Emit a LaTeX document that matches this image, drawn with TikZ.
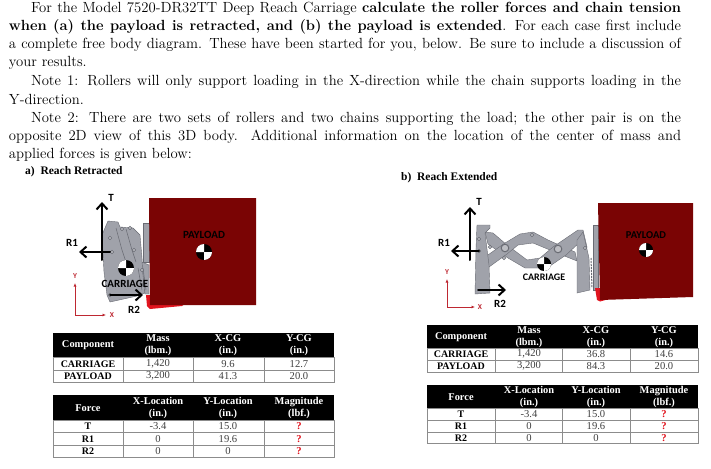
\documentclass[tikz,border=0pt]{standalone}
\usepackage{fontspec}
\newfontfamily\tabfont{Liberation Serif}
\newfontfamily\lblfont{Carlito}
\usetikzlibrary{arrows.meta}
\definecolor{payred}{RGB}{122,4,4}
\definecolor{brightred}{RGB}{225,20,30}
\definecolor{gearg}{RGB}{160,162,170}
\definecolor{darkg}{RGB}{105,107,115}
\definecolor{axred}{RGB}{190,40,50}
\definecolor{rule}{RGB}{140,140,140}
\tikzset{
 para/.style={anchor=base west,inner sep=0,outer sep=0,font=\fontsize{14.7}{18}\selectfont},
 lbl/.style={inner sep=0,font=\lblfont\bfseries\fontsize{11}{12}\selectfont,text=black},
 head/.style={inner sep=0,font=\tabfont\bfseries\fontsize{10.4}{11.5}\selectfont,text=white,align=center},
 cellb/.style={inner sep=0,font=\tabfont\bfseries\fontsize{10}{11}\selectfont},
 cell/.style={inner sep=0,font=\tabfont\fontsize{10.6}{12}\selectfont,text=black!75},
 qm/.style={inner sep=0,font=\tabfont\bfseries\fontsize{10.6}{11}\selectfont,text=brightred},
 force/.style={line width=2pt,-{Straight Barb[length=6pt,width=11pt,line width=2pt]},line cap=round},
 axis/.style={draw=axred,line width=.7pt,-{Latex[length=3.5pt,width=3pt]}},
 axlab/.style={inner sep=0,text=axred,font=\lblfont\bfseries\fontsize{7.5}{8}\selectfont},
 link/.style={draw=darkg,fill=gearg,line width=.4pt},
 pin/.style={draw=darkg,fill=gearg!70,line width=.6pt},
 ttl/.style={inner sep=0,anchor=west,font=\tabfont\bfseries\fontsize{11.5}{12}\selectfont},
}
\newcommand{\cgmark}[2]{% centre, radius
 \fill[black] (#1) circle (#2);
 \fill[white] (#1) -- ++(#2,0) arc (0:90:#2) -- cycle;
 \fill[white] (#1) -- ++(-#2,0) arc (180:270:#2) -- cycle;
}
\newcommand{\tabgrid}[9]{%
 \fill[black] (#1,#6) rectangle (#5,#7);
 \draw[rule,line width=.7pt] (#1,#7) rectangle (#5,#9);
 \draw[rule,line width=.7pt] (#2,#7) -- (#2,#9) (#3,#7) -- (#3,#9) (#4,#7) -- (#4,#9) (#1,#8) -- (#5,#8);
}
\begin{document}
\begin{tikzpicture}[x=1pt,y=-1pt]
\useasboundingbox (0,0) rectangle (711,468);
\fill[white] (0,0) rectangle (711,468);
% paragraph
\node[para] (p1) at (31,13) {\hbox to 650pt{For the Model 7520-DR32TT Deep Reach Carriage \textbf{calculate the roller forces and chain tension}}};
\node[para] (p2) at (9,31) {\hbox to 672pt{\textbf{when (a) the payload is retracted, and (b) the payload is extended}. For each case first include}};
\node[para] (p3) at (9,49) {\hbox to 672pt{a complete free body diagram. These have been started for you, below. Be sure to include a discussion of}};
\node[para] (p4) at (9,67) {your results.};
\node[para] (p5) at (31,85) {\hbox to 650pt{Note 1: Rollers will only support loading in the X-direction while the chain supports loading in the}};
\node[para] (p6) at (9,104) {Y-direction.};
\node[para] (p7) at (31,122) {\hbox to 650pt{Note 2: There are two sets of rollers and two chains supporting the load; the other pair is on the}};
\node[para] (p8) at (9,140) {\hbox to 672pt{opposite 2D view of this 3D body. Additional information on the location of the center of mass and}};
\node[para] (p9) at (9,158) {applied forces is given below:};
\node[ttl] (ta) at (25,172) {a)\ \ Reach Retracted};
\node[ttl] (tb) at (401,178) {b)\ \ Reach Extended};

% ---------- figure a: carriage
\path[link] (102,235) -- (105,228) -- (108,221) -- (118,222) -- (120,227) -- (133,228) -- (140,235) -- (142,258) -- (143,275) -- (145,293) -- (137,296) -- (110,302) -- (107,295) -- (104,272) -- cycle;
\path[link] (143,223) -- (149,223) -- (149,262) -- (143,262) -- cycle;
\path[link] (142,262) -- (149,265) -- (149,294) -- (145,294) -- cycle;
\draw[darkg,line width=.5pt] (116,228) -- (122,250) -- (126,262) (126,229) -- (132,250) -- (136,262) (138,268) -- (142,290) (143,268) -- (146,290);
\foreach \p in {(122,229),(110,238),(112,252),(130,228),(134,250),(142,270),(110,295)}
  \draw[pin] \p circle (1.7);
% payload a
\fill[brightred] (146,295) -- (150,295) -- (190,300) -- (182,306) -- (150,309) -- (147,306) -- cycle;
\fill[payred] (149,198) -- (256,198) -- (256,305) -- (182,305) -- (150,305) -- cycle;
\node[lbl] (payA) at (204,235) {PAYLOAD};
\cgmark{204,252}{8}
\cgmark{126,268}{8}
\node[lbl] (carA) at (125,284) {CARRIAGE};
\coordinate (Ta0) at (102,260); \coordinate (Ta1) at (102,202);
\coordinate (Ra0) at (110,252); \coordinate (Ra1) at (79,252);
\coordinate (Sa0) at (110,295); \coordinate (Sa1) at (143,295);
\draw[force] (Ta0) -- (Ta1);
\draw[force] (Ra0) -- (Ra1);
\draw[force] (Sa0) -- (Sa1);
\node[lbl] (tA) at (111,198) {T};
\node[lbl] (r1A) at (72,243) {R1};
\node[lbl] (r2A) at (134,310) {R2};
\coordinate (Oa) at (75,315);
\node[axlab] (yA) at (75,276) {Y};
\node[axlab] (xA) at (112,315) {X};
\draw[axis] (Oa) -- (75,283);
\draw[axis] (Oa) -- (106,315);

% ---------- figure b: carriage
\path[link] (485,232) -- (493,233) -- (507,245) -- (527,260) -- (540,258) -- (540,268) -- (525,268) -- (508,258) -- (488,244) -- cycle;
\path[link] (485,257) -- (505,243) -- (520,234) -- (533,232) -- (548,240) -- (575,252) -- (577,261) -- (562,255) -- (533,243) -- (518,245) -- (507,254) -- (489,267) -- cycle;
\path[link] (540,258) -- (553,247) -- (578,230) -- (583,230) -- (587,247) -- (580,242) -- (566,255) -- (547,268) -- cycle;
\path[link] (477,225) -- (490,225) -- (490,228) -- (485,233) -- (489,265) -- (490,293) -- (475,294) -- (476,248) -- cycle;
\path[link] (577,240) -- (583,232) -- (589,258) -- (590,290) -- (577,293) -- cycle;
\path[link] (593,225) -- (598,225) -- (598,290) -- (593,290) -- cycle;
\draw[darkg,line width=1pt,dash pattern=on 2pt off 1pt] (591,258) -- (592,288);
\foreach \p in {(479,239),(479,251),(532,235),(504,258),(490,247),(585,248)}
  \draw[pin] \p circle (1.7);
\foreach \p in {(505,248),(558,249)}
  \draw[pin,line width=1pt] \p circle (3.8);
% payload b
\fill[brightred] (595,288) -- (600,288) -- (620,296) -- (600,301.5) -- (597,300) -- cycle;
\fill[payred] (598,203) -- (693,203) -- (693,297) -- (600,300) -- cycle;
\node[lbl,font=\lblfont\bfseries\fontsize{10.5}{12}\selectfont] (payB) at (646,235) {PAYLOAD};
\cgmark{646,250}{7}
\cgmark{544,264}{7}
\node[lbl,font=\lblfont\bfseries\fontsize{10}{12}\selectfont] (carB) at (544,277) {CARRIAGE};
\coordinate (Tb0) at (470,260); \coordinate (Tb1) at (470,207);
\coordinate (Rb0) at (479,251); \coordinate (Rb1) at (451,251);
\coordinate (Sb0) at (478,290); \coordinate (Sb1) at (506,290);
\draw[force] (Tb0) -- (Tb1);
\draw[force] (Rb0) -- (Rb1);
\draw[force] (Sb0) -- (Sb1);
\node[lbl] (tB) at (479,202) {T};
\node[lbl] (r1B) at (444,243) {R1};
\node[lbl] (r2B) at (500,304) {R2};
\coordinate (Ob) at (447,307);
\node[axlab] (yB) at (447,272) {Y};
\node[axlab] (xB) at (480,307) {X};
\draw[axis] (Ob) -- (447,279);
\draw[axis] (Ob) -- (475,307);

% ---------- tables a
\tabgrid{53}{123}{193}{264}{334}{333}{357}{370}{382}
\node[head] (a11) at (88,345) {Component};
\node[head] (a12) at (158,345) {Mass\\(lbm.)};
\node[head] (a13) at (228,345) {X-CG\\(in.)};
\node[head] (a14) at (299,345) {Y-CG\\(in.)};
\node[cellb] (a21) at (88,364) {CARRIAGE};
\node[cell] (a22) at (158,364) {1,420};
\node[cell] (a23) at (228,364) {9.6};
\node[cell] (a24) at (299,364) {12.7};
\node[cellb] (a31) at (88,376) {PAYLOAD};
\node[cell] (a32) at (158,376) {3,200};
\node[cell] (a33) at (228,376) {41.3};
\node[cell] (a34) at (299,376) {20.0};

\fill[black] (53,395) rectangle (334,420);
\draw[rule,line width=.7pt] (53,420) rectangle (334,457);
\draw[rule,line width=.7pt] (123,420) -- (123,457) (193,420) -- (193,457) (264,420) -- (264,457) (53,432) -- (334,432) (53,445) -- (334,445);
\node[head] (b11) at (88,408) {Force};
\node[head] (b12) at (158,408) {X-Location\\(in.)};
\node[head] (b13) at (228,408) {Y-Location\\(in.)};
\node[head] (b14) at (299,408) {Magnitude\\(lbf.)};
\node[cellb] (b21) at (88,426) {T};
\node[cell] (b22) at (158,426) {-3.4};
\node[cell] (b23) at (228,426) {15.0};
\node[qm] (b24) at (299,426) {?};
\node[cellb] (b31) at (88,439) {R1};
\node[cell] (b32) at (158,439) {0};
\node[cell] (b33) at (228,439) {19.6};
\node[qm] (b34) at (299,439) {?};
\node[cellb] (b41) at (88,451) {R2};
\node[cell] (b42) at (158,451) {0};
\node[cell] (b43) at (228,451) {0};
\node[qm] (b44) at (299,451) {?};

% ---------- tables b
\tabgrid{427}{495}{562}{630}{698}{325}{348}{360}{372}
\node[head] (c11) at (461,337) {Component};
\node[head] (c12) at (529,337) {Mass\\(lbm.)};
\node[head] (c13) at (596,337) {X-CG\\(in.)};
\node[head] (c14) at (664,337) {Y-CG\\(in.)};
\node[cellb] (c21) at (461,354) {CARRIAGE};
\node[cell] (c22) at (529,354) {1,420};
\node[cell] (c23) at (596,354) {36.8};
\node[cell] (c24) at (664,354) {14.6};
\node[cellb] (c31) at (461,366) {PAYLOAD};
\node[cell] (c32) at (529,366) {3,200};
\node[cell] (c33) at (596,366) {84.3};
\node[cell] (c34) at (664,366) {20.0};

\fill[black] (427,385) rectangle (698,408);
\draw[rule,line width=.7pt] (427,408) rectangle (698,443);
\draw[rule,line width=.7pt] (495,408) -- (495,443) (562,408) -- (562,443) (630,408) -- (630,443) (427,420) -- (698,420) (427,432) -- (698,432);
\node[head] (d11) at (461,397) {Force};
\node[head] (d12) at (529,397) {X-Location\\(in.)};
\node[head] (d13) at (596,397) {Y-Location\\(in.)};
\node[head] (d14) at (664,397) {Magnitude\\(lbf.)};
\node[cellb] (d21) at (461,414) {T};
\node[cell] (d22) at (529,414) {-3.4};
\node[cell] (d23) at (596,414) {15.0};
\node[qm] (d24) at (664,414) {?};
\node[cellb] (d31) at (461,426) {R1};
\node[cell] (d32) at (529,426) {0};
\node[cell] (d33) at (596,426) {19.6};
\node[qm] (d34) at (664,426) {?};
\node[cellb] (d41) at (461,438) {R2};
\node[cell] (d42) at (529,438) {0};
\node[cell] (d43) at (596,438) {0};
\node[qm] (d44) at (664,438) {?};
\end{tikzpicture}
\end{document}
